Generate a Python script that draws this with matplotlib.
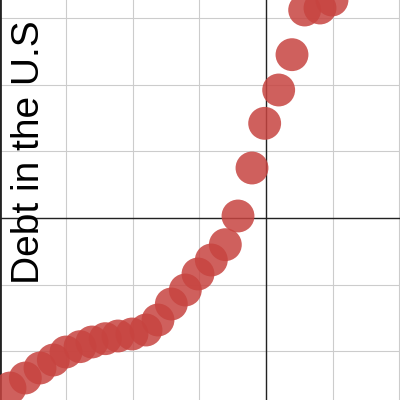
import matplotlib
matplotlib.use("Agg")
import matplotlib.pyplot as plt

# data in graph units (1 grid unit)
xs = [-3.84,-3.61,-3.39,-3.19,-3.0,-2.79,-2.61,-2.41,-2.22,-2.01,-1.8,-1.62,-1.42,-1.21,-1.02,-0.82,-0.61,-0.42,-0.21,-0.02,0.19,0.39,0.58,0.81,0.99]
ys = [-2.55,-2.40,-2.25,-2.13,-2.01,-1.93,-1.86,-1.81,-1.77,-1.74,-1.68,-1.53,-1.29,-1.08,-0.84,-0.63,-0.40,0.03,0.75,1.42,1.92,2.45,3.12,3.15,3.27]

fig = plt.figure(figsize=(4,4), dpi=100)
ax = fig.add_axes([0,0,1,1])
ax.set_xlim(-3.99, 2.01)
ax.set_ylim(-2.73, 3.27)
for v in range(-4, 3):
    ax.axvline(v, color='#cccccc', lw=0.8, zorder=0)
for v in range(-3, 4):
    ax.axhline(v, color='#cccccc', lw=0.8, zorder=0)
ax.axvline(0, color='#222222', lw=1.0, zorder=1)
ax.axhline(0, color='#222222', lw=1.0, zorder=1)
ax.axvline(-3.99, color='#222222', lw=2, zorder=1)
ax.scatter(xs, ys, s=560, color='#c74440', alpha=0.85, edgecolors='none', zorder=3)
ax.text(-3.55, 0.98, 'Debt in the U.S', rotation=90, fontsize=28, family='Liberation Sans',
        ha='center', va='center', color='black', zorder=4)
ax.axis('off')
fig.savefig('out.png', dpi=100)
